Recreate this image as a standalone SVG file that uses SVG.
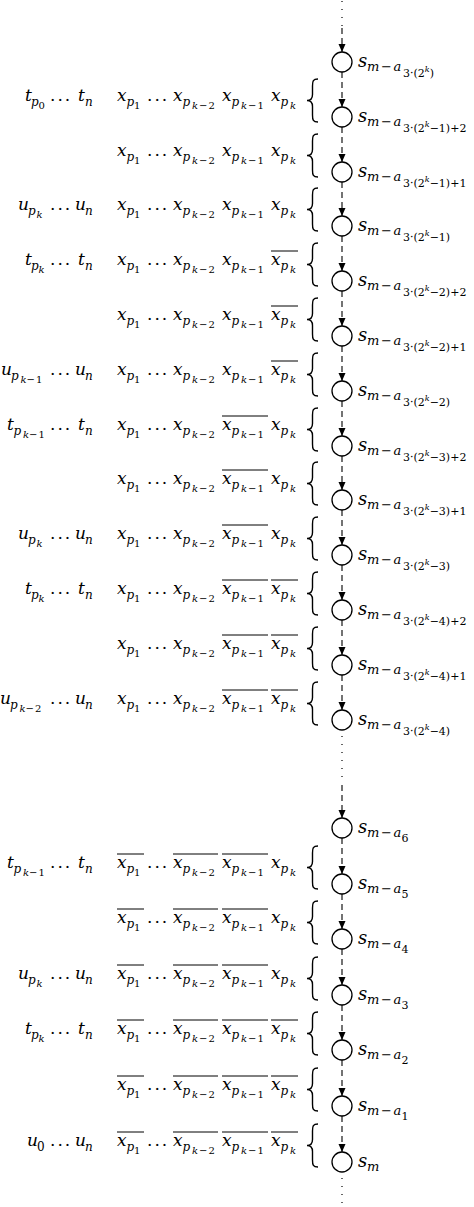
<svg xmlns="http://www.w3.org/2000/svg" xmlns:xlink="http://www.w3.org/1999/xlink" width="474" height="1207" viewBox="0 0 474 1207">
<style>
text { font-family: "DejaVu Serif", "Liberation Serif", serif; fill: #000; }
.m { font-size: 17px; font-style: italic; }
.lb { font-size: 18px; font-style: italic; }
.s { font-size: 12px; }
.ss { font-size: 10px; }
.ls { font-size: 13px; }
.lss { font-size: 11px; }
.lsup { font-size: 8px; font-style: italic; }
.r { font-style: normal; }
.dots { font-style: normal; letter-spacing: 2px; }
.ov { stroke: #000; stroke-width: 1; }
.nd { fill: #fff; stroke: #000; stroke-width: 1.3; }
.br { fill: none; stroke: #000; stroke-width: 1.4; }
.dash { stroke: #000; stroke-width: 1.1; stroke-dasharray: 6 4; fill: none; }
.dot { stroke: #000; stroke-width: 1.2; stroke-dasharray: 1 7; fill: none; }
</style>
<defs>
<marker id="ah" viewBox="0 0 8 8" refX="8" refY="4" markerWidth="8" markerHeight="8" markerUnits="userSpaceOnUse" orient="auto"><path d="M0,0.5 L8,4 L0,7.5 z" fill="#000"/></marker>
<path id="brace" class="br" d="M11,0 C6,0 5.5,2 5.5,7 L5.5,15.5 C5.5,19.5 4,21.5 0,21.5 C4,21.5 5.5,23.5 5.5,27.5 L5.5,36 C5.5,41 6,43 11,43"/>
</defs>

<g id="connectors">
<line class="dot" x1="342" y1="1" x2="342" y2="26"/>
<line class="dash" x1="342" y1="28" x2="342" y2="52" marker-end="url(#ah)"/>
<line class="dash" x1="342" y1="72" x2="342" y2="107" marker-end="url(#ah)"/>
<line class="dash" x1="342" y1="127" x2="342" y2="162" marker-end="url(#ah)"/>
<line class="dash" x1="342" y1="182" x2="342" y2="216" marker-end="url(#ah)"/>
<line class="dash" x1="342" y1="236" x2="342" y2="271" marker-end="url(#ah)"/>
<line class="dash" x1="342" y1="291" x2="342" y2="326" marker-end="url(#ah)"/>
<line class="dash" x1="342" y1="346" x2="342" y2="381" marker-end="url(#ah)"/>
<line class="dash" x1="342" y1="401" x2="342" y2="436" marker-end="url(#ah)"/>
<line class="dash" x1="342" y1="456" x2="342" y2="490" marker-end="url(#ah)"/>
<line class="dash" x1="342" y1="510" x2="342" y2="545" marker-end="url(#ah)"/>
<line class="dash" x1="342" y1="565" x2="342" y2="600" marker-end="url(#ah)"/>
<line class="dash" x1="342" y1="620" x2="342" y2="655" marker-end="url(#ah)"/>
<line class="dash" x1="342" y1="675" x2="342" y2="710" marker-end="url(#ah)"/>
<line class="dot" x1="342" y1="736" x2="342" y2="782"/>
<line class="dash" x1="342" y1="785" x2="342" y2="818" marker-end="url(#ah)"/>
<line class="dash" x1="342" y1="838" x2="342" y2="874" marker-end="url(#ah)"/>
<line class="dash" x1="342" y1="894" x2="342" y2="929" marker-end="url(#ah)"/>
<line class="dash" x1="342" y1="949" x2="342" y2="985" marker-end="url(#ah)"/>
<line class="dash" x1="342" y1="1005" x2="342" y2="1040" marker-end="url(#ah)"/>
<line class="dash" x1="342" y1="1060" x2="342" y2="1096" marker-end="url(#ah)"/>
<line class="dash" x1="342" y1="1116" x2="342" y2="1152" marker-end="url(#ah)"/>
<line class="dot" x1="342" y1="1178" x2="342" y2="1206"/>
</g>

<g id="n0"><circle class="nd" cx="342" cy="62" r="10"/>
<text class="lb" y="67"><tspan x="358">s</tspan><tspan class="ls" x="367" y="71">m</tspan><tspan class="ls r" x="381">−</tspan><tspan class="ls" x="393.5">a</tspan><tspan class="lss r" x="403" y="77">3·(2</tspan><tspan class="lsup" y="72">k</tspan><tspan class="lss r" y="77">)</tspan></text></g>
<g id="n1"><circle class="nd" cx="342" cy="117" r="10"/>
<text class="lb" y="122"><tspan x="358">s</tspan><tspan class="ls" x="367" y="126">m</tspan><tspan class="ls r" x="381">−</tspan><tspan class="ls" x="393.5">a</tspan><tspan class="lss r" x="403" y="132">3·(2</tspan><tspan class="lsup" y="127">k</tspan><tspan class="lss r" y="132">−1)+2</tspan></text></g>
<g id="n2"><circle class="nd" cx="342" cy="172" r="10"/>
<text class="lb" y="177"><tspan x="358">s</tspan><tspan class="ls" x="367" y="181">m</tspan><tspan class="ls r" x="381">−</tspan><tspan class="ls" x="393.5">a</tspan><tspan class="lss r" x="403" y="187">3·(2</tspan><tspan class="lsup" y="182">k</tspan><tspan class="lss r" y="187">−1)+1</tspan></text></g>
<g id="n3"><circle class="nd" cx="342" cy="226" r="10"/>
<text class="lb" y="231"><tspan x="358">s</tspan><tspan class="ls" x="367" y="235">m</tspan><tspan class="ls r" x="381">−</tspan><tspan class="ls" x="393.5">a</tspan><tspan class="lss r" x="403" y="241">3·(2</tspan><tspan class="lsup" y="236">k</tspan><tspan class="lss r" y="241">−1)</tspan></text></g>
<g id="n4"><circle class="nd" cx="342" cy="281" r="10"/>
<text class="lb" y="286"><tspan x="358">s</tspan><tspan class="ls" x="367" y="290">m</tspan><tspan class="ls r" x="381">−</tspan><tspan class="ls" x="393.5">a</tspan><tspan class="lss r" x="403" y="296">3·(2</tspan><tspan class="lsup" y="291">k</tspan><tspan class="lss r" y="296">−2)+2</tspan></text></g>
<g id="n5"><circle class="nd" cx="342" cy="336" r="10"/>
<text class="lb" y="341"><tspan x="358">s</tspan><tspan class="ls" x="367" y="345">m</tspan><tspan class="ls r" x="381">−</tspan><tspan class="ls" x="393.5">a</tspan><tspan class="lss r" x="403" y="351">3·(2</tspan><tspan class="lsup" y="346">k</tspan><tspan class="lss r" y="351">−2)+1</tspan></text></g>
<g id="n6"><circle class="nd" cx="342" cy="391" r="10"/>
<text class="lb" y="396"><tspan x="358">s</tspan><tspan class="ls" x="367" y="400">m</tspan><tspan class="ls r" x="381">−</tspan><tspan class="ls" x="393.5">a</tspan><tspan class="lss r" x="403" y="406">3·(2</tspan><tspan class="lsup" y="401">k</tspan><tspan class="lss r" y="406">−2)</tspan></text></g>
<g id="n7"><circle class="nd" cx="342" cy="446" r="10"/>
<text class="lb" y="451"><tspan x="358">s</tspan><tspan class="ls" x="367" y="455">m</tspan><tspan class="ls r" x="381">−</tspan><tspan class="ls" x="393.5">a</tspan><tspan class="lss r" x="403" y="461">3·(2</tspan><tspan class="lsup" y="456">k</tspan><tspan class="lss r" y="461">−3)+2</tspan></text></g>
<g id="n8"><circle class="nd" cx="342" cy="500" r="10"/>
<text class="lb" y="505"><tspan x="358">s</tspan><tspan class="ls" x="367" y="509">m</tspan><tspan class="ls r" x="381">−</tspan><tspan class="ls" x="393.5">a</tspan><tspan class="lss r" x="403" y="515">3·(2</tspan><tspan class="lsup" y="510">k</tspan><tspan class="lss r" y="515">−3)+1</tspan></text></g>
<g id="n9"><circle class="nd" cx="342" cy="555" r="10"/>
<text class="lb" y="560"><tspan x="358">s</tspan><tspan class="ls" x="367" y="564">m</tspan><tspan class="ls r" x="381">−</tspan><tspan class="ls" x="393.5">a</tspan><tspan class="lss r" x="403" y="570">3·(2</tspan><tspan class="lsup" y="565">k</tspan><tspan class="lss r" y="570">−3)</tspan></text></g>
<g id="n10"><circle class="nd" cx="342" cy="610" r="10"/>
<text class="lb" y="615"><tspan x="358">s</tspan><tspan class="ls" x="367" y="619">m</tspan><tspan class="ls r" x="381">−</tspan><tspan class="ls" x="393.5">a</tspan><tspan class="lss r" x="403" y="625">3·(2</tspan><tspan class="lsup" y="620">k</tspan><tspan class="lss r" y="625">−4)+2</tspan></text></g>
<g id="n11"><circle class="nd" cx="342" cy="665" r="10"/>
<text class="lb" y="670"><tspan x="358">s</tspan><tspan class="ls" x="367" y="674">m</tspan><tspan class="ls r" x="381">−</tspan><tspan class="ls" x="393.5">a</tspan><tspan class="lss r" x="403" y="680">3·(2</tspan><tspan class="lsup" y="675">k</tspan><tspan class="lss r" y="680">−4)+1</tspan></text></g>
<g id="n12"><circle class="nd" cx="342" cy="720" r="10"/>
<text class="lb" y="725"><tspan x="358">s</tspan><tspan class="ls" x="367" y="729">m</tspan><tspan class="ls r" x="381">−</tspan><tspan class="ls" x="393.5">a</tspan><tspan class="lss r" x="403" y="735">3·(2</tspan><tspan class="lsup" y="730">k</tspan><tspan class="lss r" y="735">−4)</tspan></text></g>

<g id="b0"><circle class="nd" cx="342" cy="828" r="10"/>
<text class="lb" y="833"><tspan x="358">s</tspan><tspan class="ls" x="367" y="837">m</tspan><tspan class="ls r" x="381">−</tspan><tspan class="ls" x="393.5">a</tspan><tspan class="lss r" x="401.5" y="842">6</tspan></text></g>
<g id="b1"><circle class="nd" cx="342" cy="884" r="10"/>
<text class="lb" y="889"><tspan x="358">s</tspan><tspan class="ls" x="367" y="893">m</tspan><tspan class="ls r" x="381">−</tspan><tspan class="ls" x="393.5">a</tspan><tspan class="lss r" x="401.5" y="898">5</tspan></text></g>
<g id="b2"><circle class="nd" cx="342" cy="939" r="10"/>
<text class="lb" y="944"><tspan x="358">s</tspan><tspan class="ls" x="367" y="948">m</tspan><tspan class="ls r" x="381">−</tspan><tspan class="ls" x="393.5">a</tspan><tspan class="lss r" x="401.5" y="953">4</tspan></text></g>
<g id="b3"><circle class="nd" cx="342" cy="995" r="10"/>
<text class="lb" y="1000"><tspan x="358">s</tspan><tspan class="ls" x="367" y="1004">m</tspan><tspan class="ls r" x="381">−</tspan><tspan class="ls" x="393.5">a</tspan><tspan class="lss r" x="401.5" y="1009">3</tspan></text></g>
<g id="b4"><circle class="nd" cx="342" cy="1050" r="10"/>
<text class="lb" y="1055"><tspan x="358">s</tspan><tspan class="ls" x="367" y="1059">m</tspan><tspan class="ls r" x="381">−</tspan><tspan class="ls" x="393.5">a</tspan><tspan class="lss r" x="401.5" y="1064">2</tspan></text></g>
<g id="b5"><circle class="nd" cx="342" cy="1106" r="10"/>
<text class="lb" y="1111"><tspan x="358">s</tspan><tspan class="ls" x="367" y="1115">m</tspan><tspan class="ls r" x="381">−</tspan><tspan class="ls" x="393.5">a</tspan><tspan class="lss r" x="401.5" y="1120">1</tspan></text></g>
<g id="b6"><circle class="nd" cx="342" cy="1162" r="10"/>
<text class="lb" y="1167"><tspan x="358">s</tspan><tspan class="ls" x="367" y="1171">m</tspan></text></g>

<g id="r1">
<text class="m" y="101"><tspan x="25">t</tspan><tspan class="s" x="31" y="106">p</tspan><tspan class="ss r" x="38.5" y="109">0</tspan><tspan class="dots" x="50" y="101">...</tspan><tspan x="78">t</tspan><tspan class="s" x="85" y="106">n</tspan></text>
<text class="m" y="101"><tspan x="117">x</tspan><tspan class="s" x="126.5" y="106">p</tspan><tspan class="ss r" x="134" y="109">1</tspan><tspan class="dots" x="147" y="101">...</tspan><tspan x="173">x</tspan><tspan class="s" x="182.5" y="106">p</tspan><tspan class="ss" x="192" y="109">k</tspan><tspan class="ss r" x="199">−</tspan><tspan class="ss r" x="208.5">2</tspan><tspan x="222" y="101">x</tspan><tspan class="s" x="231.5" y="106">p</tspan><tspan class="ss" x="241" y="109">k</tspan><tspan class="ss r" x="248">−</tspan><tspan class="ss r" x="257.5">1</tspan><tspan x="271" y="101">x</tspan><tspan class="s" x="280.5" y="106">p</tspan><tspan class="ss" x="290" y="109">k</tspan></text>
<use xlink:href="#brace" x="307" y="79"/>
</g>
<g id="r2">
<text class="m" y="156"><tspan x="117">x</tspan><tspan class="s" x="126.5" y="161">p</tspan><tspan class="ss r" x="134" y="164">1</tspan><tspan class="dots" x="147" y="156">...</tspan><tspan x="173">x</tspan><tspan class="s" x="182.5" y="161">p</tspan><tspan class="ss" x="192" y="164">k</tspan><tspan class="ss r" x="199">−</tspan><tspan class="ss r" x="208.5">2</tspan><tspan x="222" y="156">x</tspan><tspan class="s" x="231.5" y="161">p</tspan><tspan class="ss" x="241" y="164">k</tspan><tspan class="ss r" x="248">−</tspan><tspan class="ss r" x="257.5">1</tspan><tspan x="271" y="156">x</tspan><tspan class="s" x="280.5" y="161">p</tspan><tspan class="ss" x="290" y="164">k</tspan></text>
<use xlink:href="#brace" x="307" y="134"/>
</g>
<g id="r3">
<text class="m" y="210"><tspan x="18">u</tspan><tspan class="s" x="28" y="215">p</tspan><tspan class="ss" x="36.5" y="218">k</tspan><tspan class="dots" x="50" y="210">...</tspan><tspan x="75">u</tspan><tspan class="s" x="85" y="215">n</tspan></text>
<text class="m" y="210"><tspan x="117">x</tspan><tspan class="s" x="126.5" y="215">p</tspan><tspan class="ss r" x="134" y="218">1</tspan><tspan class="dots" x="147" y="210">...</tspan><tspan x="173">x</tspan><tspan class="s" x="182.5" y="215">p</tspan><tspan class="ss" x="192" y="218">k</tspan><tspan class="ss r" x="199">−</tspan><tspan class="ss r" x="208.5">2</tspan><tspan x="222" y="210">x</tspan><tspan class="s" x="231.5" y="215">p</tspan><tspan class="ss" x="241" y="218">k</tspan><tspan class="ss r" x="248">−</tspan><tspan class="ss r" x="257.5">1</tspan><tspan x="271" y="210">x</tspan><tspan class="s" x="280.5" y="215">p</tspan><tspan class="ss" x="290" y="218">k</tspan></text>
<use xlink:href="#brace" x="307" y="188"/>
</g>
<g id="r4">
<text class="m" y="265"><tspan x="25">t</tspan><tspan class="s" x="31" y="270">p</tspan><tspan class="ss" x="38.5" y="273">k</tspan><tspan class="dots" x="50" y="265">...</tspan><tspan x="78">t</tspan><tspan class="s" x="85" y="270">n</tspan></text>
<text class="m" y="265"><tspan x="117">x</tspan><tspan class="s" x="126.5" y="270">p</tspan><tspan class="ss r" x="134" y="273">1</tspan><tspan class="dots" x="147" y="265">...</tspan><tspan x="173">x</tspan><tspan class="s" x="182.5" y="270">p</tspan><tspan class="ss" x="192" y="273">k</tspan><tspan class="ss r" x="199">−</tspan><tspan class="ss r" x="208.5">2</tspan><tspan x="222" y="265">x</tspan><tspan class="s" x="231.5" y="270">p</tspan><tspan class="ss" x="241" y="273">k</tspan><tspan class="ss r" x="248">−</tspan><tspan class="ss r" x="257.5">1</tspan><tspan x="271" y="265">x</tspan><tspan class="s" x="280.5" y="270">p</tspan><tspan class="ss" x="290" y="273">k</tspan></text>
<line class="ov" x1="271" y1="251" x2="298" y2="251"/>
<use xlink:href="#brace" x="307" y="243"/>
</g>
<g id="r5">
<text class="m" y="320"><tspan x="117">x</tspan><tspan class="s" x="126.5" y="325">p</tspan><tspan class="ss r" x="134" y="328">1</tspan><tspan class="dots" x="147" y="320">...</tspan><tspan x="173">x</tspan><tspan class="s" x="182.5" y="325">p</tspan><tspan class="ss" x="192" y="328">k</tspan><tspan class="ss r" x="199">−</tspan><tspan class="ss r" x="208.5">2</tspan><tspan x="222" y="320">x</tspan><tspan class="s" x="231.5" y="325">p</tspan><tspan class="ss" x="241" y="328">k</tspan><tspan class="ss r" x="248">−</tspan><tspan class="ss r" x="257.5">1</tspan><tspan x="271" y="320">x</tspan><tspan class="s" x="280.5" y="325">p</tspan><tspan class="ss" x="290" y="328">k</tspan></text>
<line class="ov" x1="271" y1="306" x2="298" y2="306"/>
<use xlink:href="#brace" x="307" y="298"/>
</g>
<g id="r6">
<text class="m" y="375"><tspan x="1">u</tspan><tspan class="s" x="11" y="380">p</tspan><tspan class="ss" x="20.5" y="383">k</tspan><tspan class="ss r" x="26.5">−</tspan><tspan class="ss r" x="36">1</tspan><tspan class="dots" x="50" y="375">...</tspan><tspan x="75">u</tspan><tspan class="s" x="85" y="380">n</tspan></text>
<text class="m" y="375"><tspan x="117">x</tspan><tspan class="s" x="126.5" y="380">p</tspan><tspan class="ss r" x="134" y="383">1</tspan><tspan class="dots" x="147" y="375">...</tspan><tspan x="173">x</tspan><tspan class="s" x="182.5" y="380">p</tspan><tspan class="ss" x="192" y="383">k</tspan><tspan class="ss r" x="199">−</tspan><tspan class="ss r" x="208.5">2</tspan><tspan x="222" y="375">x</tspan><tspan class="s" x="231.5" y="380">p</tspan><tspan class="ss" x="241" y="383">k</tspan><tspan class="ss r" x="248">−</tspan><tspan class="ss r" x="257.5">1</tspan><tspan x="271" y="375">x</tspan><tspan class="s" x="280.5" y="380">p</tspan><tspan class="ss" x="290" y="383">k</tspan></text>
<line class="ov" x1="271" y1="361" x2="298" y2="361"/>
<use xlink:href="#brace" x="307" y="353"/>
</g>
<g id="r7">
<text class="m" y="430"><tspan x="7">t</tspan><tspan class="s" x="13.5" y="435">p</tspan><tspan class="ss" x="23" y="438">k</tspan><tspan class="ss r" x="29">−</tspan><tspan class="ss r" x="38.5">1</tspan><tspan class="dots" x="50" y="430">...</tspan><tspan x="78">t</tspan><tspan class="s" x="85" y="435">n</tspan></text>
<text class="m" y="430"><tspan x="117">x</tspan><tspan class="s" x="126.5" y="435">p</tspan><tspan class="ss r" x="134" y="438">1</tspan><tspan class="dots" x="147" y="430">...</tspan><tspan x="173">x</tspan><tspan class="s" x="182.5" y="435">p</tspan><tspan class="ss" x="192" y="438">k</tspan><tspan class="ss r" x="199">−</tspan><tspan class="ss r" x="208.5">2</tspan><tspan x="222" y="430">x</tspan><tspan class="s" x="231.5" y="435">p</tspan><tspan class="ss" x="241" y="438">k</tspan><tspan class="ss r" x="248">−</tspan><tspan class="ss r" x="257.5">1</tspan><tspan x="271" y="430">x</tspan><tspan class="s" x="280.5" y="435">p</tspan><tspan class="ss" x="290" y="438">k</tspan></text>
<line class="ov" x1="222" y1="416" x2="268" y2="416"/>
<use xlink:href="#brace" x="307" y="408"/>
</g>
<g id="r8">
<text class="m" y="484"><tspan x="117">x</tspan><tspan class="s" x="126.5" y="489">p</tspan><tspan class="ss r" x="134" y="492">1</tspan><tspan class="dots" x="147" y="484">...</tspan><tspan x="173">x</tspan><tspan class="s" x="182.5" y="489">p</tspan><tspan class="ss" x="192" y="492">k</tspan><tspan class="ss r" x="199">−</tspan><tspan class="ss r" x="208.5">2</tspan><tspan x="222" y="484">x</tspan><tspan class="s" x="231.5" y="489">p</tspan><tspan class="ss" x="241" y="492">k</tspan><tspan class="ss r" x="248">−</tspan><tspan class="ss r" x="257.5">1</tspan><tspan x="271" y="484">x</tspan><tspan class="s" x="280.5" y="489">p</tspan><tspan class="ss" x="290" y="492">k</tspan></text>
<line class="ov" x1="222" y1="470" x2="268" y2="470"/>
<use xlink:href="#brace" x="307" y="462"/>
</g>
<g id="r9">
<text class="m" y="539"><tspan x="18">u</tspan><tspan class="s" x="28" y="544">p</tspan><tspan class="ss" x="36.5" y="547">k</tspan><tspan class="dots" x="50" y="539">...</tspan><tspan x="75">u</tspan><tspan class="s" x="85" y="544">n</tspan></text>
<text class="m" y="539"><tspan x="117">x</tspan><tspan class="s" x="126.5" y="544">p</tspan><tspan class="ss r" x="134" y="547">1</tspan><tspan class="dots" x="147" y="539">...</tspan><tspan x="173">x</tspan><tspan class="s" x="182.5" y="544">p</tspan><tspan class="ss" x="192" y="547">k</tspan><tspan class="ss r" x="199">−</tspan><tspan class="ss r" x="208.5">2</tspan><tspan x="222" y="539">x</tspan><tspan class="s" x="231.5" y="544">p</tspan><tspan class="ss" x="241" y="547">k</tspan><tspan class="ss r" x="248">−</tspan><tspan class="ss r" x="257.5">1</tspan><tspan x="271" y="539">x</tspan><tspan class="s" x="280.5" y="544">p</tspan><tspan class="ss" x="290" y="547">k</tspan></text>
<line class="ov" x1="222" y1="525" x2="268" y2="525"/>
<use xlink:href="#brace" x="307" y="517"/>
</g>
<g id="r10">
<text class="m" y="594"><tspan x="25">t</tspan><tspan class="s" x="31" y="599">p</tspan><tspan class="ss" x="38.5" y="602">k</tspan><tspan class="dots" x="50" y="594">...</tspan><tspan x="78">t</tspan><tspan class="s" x="85" y="599">n</tspan></text>
<text class="m" y="594"><tspan x="117">x</tspan><tspan class="s" x="126.5" y="599">p</tspan><tspan class="ss r" x="134" y="602">1</tspan><tspan class="dots" x="147" y="594">...</tspan><tspan x="173">x</tspan><tspan class="s" x="182.5" y="599">p</tspan><tspan class="ss" x="192" y="602">k</tspan><tspan class="ss r" x="199">−</tspan><tspan class="ss r" x="208.5">2</tspan><tspan x="222" y="594">x</tspan><tspan class="s" x="231.5" y="599">p</tspan><tspan class="ss" x="241" y="602">k</tspan><tspan class="ss r" x="248">−</tspan><tspan class="ss r" x="257.5">1</tspan><tspan x="271" y="594">x</tspan><tspan class="s" x="280.5" y="599">p</tspan><tspan class="ss" x="290" y="602">k</tspan></text>
<line class="ov" x1="222" y1="580" x2="268" y2="580"/>
<line class="ov" x1="271" y1="580" x2="298" y2="580"/>
<use xlink:href="#brace" x="307" y="572"/>
</g>
<g id="r11">
<text class="m" y="649"><tspan x="117">x</tspan><tspan class="s" x="126.5" y="654">p</tspan><tspan class="ss r" x="134" y="657">1</tspan><tspan class="dots" x="147" y="649">...</tspan><tspan x="173">x</tspan><tspan class="s" x="182.5" y="654">p</tspan><tspan class="ss" x="192" y="657">k</tspan><tspan class="ss r" x="199">−</tspan><tspan class="ss r" x="208.5">2</tspan><tspan x="222" y="649">x</tspan><tspan class="s" x="231.5" y="654">p</tspan><tspan class="ss" x="241" y="657">k</tspan><tspan class="ss r" x="248">−</tspan><tspan class="ss r" x="257.5">1</tspan><tspan x="271" y="649">x</tspan><tspan class="s" x="280.5" y="654">p</tspan><tspan class="ss" x="290" y="657">k</tspan></text>
<line class="ov" x1="222" y1="635" x2="268" y2="635"/>
<line class="ov" x1="271" y1="635" x2="298" y2="635"/>
<use xlink:href="#brace" x="307" y="627"/>
</g>
<g id="r12">
<text class="m" y="704"><tspan x="0">u</tspan><tspan class="s" x="10" y="709">p</tspan><tspan class="ss" x="19.5" y="712">k</tspan><tspan class="ss r" x="25.5">−</tspan><tspan class="ss r" x="35">2</tspan><tspan class="dots" x="50" y="704">...</tspan><tspan x="75">u</tspan><tspan class="s" x="85" y="709">n</tspan></text>
<text class="m" y="704"><tspan x="117">x</tspan><tspan class="s" x="126.5" y="709">p</tspan><tspan class="ss r" x="134" y="712">1</tspan><tspan class="dots" x="147" y="704">...</tspan><tspan x="173">x</tspan><tspan class="s" x="182.5" y="709">p</tspan><tspan class="ss" x="192" y="712">k</tspan><tspan class="ss r" x="199">−</tspan><tspan class="ss r" x="208.5">2</tspan><tspan x="222" y="704">x</tspan><tspan class="s" x="231.5" y="709">p</tspan><tspan class="ss" x="241" y="712">k</tspan><tspan class="ss r" x="248">−</tspan><tspan class="ss r" x="257.5">1</tspan><tspan x="271" y="704">x</tspan><tspan class="s" x="280.5" y="709">p</tspan><tspan class="ss" x="290" y="712">k</tspan></text>
<line class="ov" x1="222" y1="690" x2="268" y2="690"/>
<line class="ov" x1="271" y1="690" x2="298" y2="690"/>
<use xlink:href="#brace" x="307" y="682"/>
</g>

<g id="q1">
<text class="m" y="868"><tspan x="7">t</tspan><tspan class="s" x="13.5" y="873">p</tspan><tspan class="ss" x="23" y="876">k</tspan><tspan class="ss r" x="29">−</tspan><tspan class="ss r" x="38.5">1</tspan><tspan class="dots" x="50" y="868">...</tspan><tspan x="78">t</tspan><tspan class="s" x="85" y="873">n</tspan></text>
<text class="m" y="868"><tspan x="117">x</tspan><tspan class="s" x="126.5" y="873">p</tspan><tspan class="ss r" x="134" y="876">1</tspan><tspan class="dots" x="147" y="868">...</tspan><tspan x="173">x</tspan><tspan class="s" x="182.5" y="873">p</tspan><tspan class="ss" x="192" y="876">k</tspan><tspan class="ss r" x="199">−</tspan><tspan class="ss r" x="208.5">2</tspan><tspan x="222" y="868">x</tspan><tspan class="s" x="231.5" y="873">p</tspan><tspan class="ss" x="241" y="876">k</tspan><tspan class="ss r" x="248">−</tspan><tspan class="ss r" x="257.5">1</tspan><tspan x="271" y="868">x</tspan><tspan class="s" x="280.5" y="873">p</tspan><tspan class="ss" x="290" y="876">k</tspan></text>
<line class="ov" x1="117" y1="854" x2="144" y2="854"/>
<line class="ov" x1="173" y1="854" x2="218" y2="854"/>
<line class="ov" x1="222" y1="854" x2="268" y2="854"/>
<use xlink:href="#brace" x="307" y="846"/>
</g>
<g id="q2">
<text class="m" y="923"><tspan x="117">x</tspan><tspan class="s" x="126.5" y="928">p</tspan><tspan class="ss r" x="134" y="931">1</tspan><tspan class="dots" x="147" y="923">...</tspan><tspan x="173">x</tspan><tspan class="s" x="182.5" y="928">p</tspan><tspan class="ss" x="192" y="931">k</tspan><tspan class="ss r" x="199">−</tspan><tspan class="ss r" x="208.5">2</tspan><tspan x="222" y="923">x</tspan><tspan class="s" x="231.5" y="928">p</tspan><tspan class="ss" x="241" y="931">k</tspan><tspan class="ss r" x="248">−</tspan><tspan class="ss r" x="257.5">1</tspan><tspan x="271" y="923">x</tspan><tspan class="s" x="280.5" y="928">p</tspan><tspan class="ss" x="290" y="931">k</tspan></text>
<line class="ov" x1="117" y1="909" x2="144" y2="909"/>
<line class="ov" x1="173" y1="909" x2="218" y2="909"/>
<line class="ov" x1="222" y1="909" x2="268" y2="909"/>
<use xlink:href="#brace" x="307" y="901"/>
</g>
<g id="q3">
<text class="m" y="979"><tspan x="18">u</tspan><tspan class="s" x="28" y="984">p</tspan><tspan class="ss" x="36.5" y="987">k</tspan><tspan class="dots" x="50" y="979">...</tspan><tspan x="75">u</tspan><tspan class="s" x="85" y="984">n</tspan></text>
<text class="m" y="979"><tspan x="117">x</tspan><tspan class="s" x="126.5" y="984">p</tspan><tspan class="ss r" x="134" y="987">1</tspan><tspan class="dots" x="147" y="979">...</tspan><tspan x="173">x</tspan><tspan class="s" x="182.5" y="984">p</tspan><tspan class="ss" x="192" y="987">k</tspan><tspan class="ss r" x="199">−</tspan><tspan class="ss r" x="208.5">2</tspan><tspan x="222" y="979">x</tspan><tspan class="s" x="231.5" y="984">p</tspan><tspan class="ss" x="241" y="987">k</tspan><tspan class="ss r" x="248">−</tspan><tspan class="ss r" x="257.5">1</tspan><tspan x="271" y="979">x</tspan><tspan class="s" x="280.5" y="984">p</tspan><tspan class="ss" x="290" y="987">k</tspan></text>
<line class="ov" x1="117" y1="965" x2="144" y2="965"/>
<line class="ov" x1="173" y1="965" x2="218" y2="965"/>
<line class="ov" x1="222" y1="965" x2="268" y2="965"/>
<use xlink:href="#brace" x="307" y="957"/>
</g>
<g id="q4">
<text class="m" y="1034"><tspan x="25">t</tspan><tspan class="s" x="31" y="1039">p</tspan><tspan class="ss" x="38.5" y="1042">k</tspan><tspan class="dots" x="50" y="1034">...</tspan><tspan x="78">t</tspan><tspan class="s" x="85" y="1039">n</tspan></text>
<text class="m" y="1034"><tspan x="117">x</tspan><tspan class="s" x="126.5" y="1039">p</tspan><tspan class="ss r" x="134" y="1042">1</tspan><tspan class="dots" x="147" y="1034">...</tspan><tspan x="173">x</tspan><tspan class="s" x="182.5" y="1039">p</tspan><tspan class="ss" x="192" y="1042">k</tspan><tspan class="ss r" x="199">−</tspan><tspan class="ss r" x="208.5">2</tspan><tspan x="222" y="1034">x</tspan><tspan class="s" x="231.5" y="1039">p</tspan><tspan class="ss" x="241" y="1042">k</tspan><tspan class="ss r" x="248">−</tspan><tspan class="ss r" x="257.5">1</tspan><tspan x="271" y="1034">x</tspan><tspan class="s" x="280.5" y="1039">p</tspan><tspan class="ss" x="290" y="1042">k</tspan></text>
<line class="ov" x1="117" y1="1020" x2="144" y2="1020"/>
<line class="ov" x1="173" y1="1020" x2="218" y2="1020"/>
<line class="ov" x1="222" y1="1020" x2="268" y2="1020"/>
<line class="ov" x1="271" y1="1020" x2="298" y2="1020"/>
<use xlink:href="#brace" x="307" y="1012"/>
</g>
<g id="q5">
<text class="m" y="1090"><tspan x="117">x</tspan><tspan class="s" x="126.5" y="1095">p</tspan><tspan class="ss r" x="134" y="1098">1</tspan><tspan class="dots" x="147" y="1090">...</tspan><tspan x="173">x</tspan><tspan class="s" x="182.5" y="1095">p</tspan><tspan class="ss" x="192" y="1098">k</tspan><tspan class="ss r" x="199">−</tspan><tspan class="ss r" x="208.5">2</tspan><tspan x="222" y="1090">x</tspan><tspan class="s" x="231.5" y="1095">p</tspan><tspan class="ss" x="241" y="1098">k</tspan><tspan class="ss r" x="248">−</tspan><tspan class="ss r" x="257.5">1</tspan><tspan x="271" y="1090">x</tspan><tspan class="s" x="280.5" y="1095">p</tspan><tspan class="ss" x="290" y="1098">k</tspan></text>
<line class="ov" x1="117" y1="1076" x2="144" y2="1076"/>
<line class="ov" x1="173" y1="1076" x2="218" y2="1076"/>
<line class="ov" x1="222" y1="1076" x2="268" y2="1076"/>
<line class="ov" x1="271" y1="1076" x2="298" y2="1076"/>
<use xlink:href="#brace" x="307" y="1068"/>
</g>
<g id="q6">
<text class="m" y="1146"><tspan x="27">u</tspan><tspan class="s r" x="37" y="1151">0</tspan><tspan class="dots" x="50" y="1146">...</tspan><tspan x="75">u</tspan><tspan class="s" x="85" y="1151">n</tspan></text>
<text class="m" y="1146"><tspan x="117">x</tspan><tspan class="s" x="126.5" y="1151">p</tspan><tspan class="ss r" x="134" y="1154">1</tspan><tspan class="dots" x="147" y="1146">...</tspan><tspan x="173">x</tspan><tspan class="s" x="182.5" y="1151">p</tspan><tspan class="ss" x="192" y="1154">k</tspan><tspan class="ss r" x="199">−</tspan><tspan class="ss r" x="208.5">2</tspan><tspan x="222" y="1146">x</tspan><tspan class="s" x="231.5" y="1151">p</tspan><tspan class="ss" x="241" y="1154">k</tspan><tspan class="ss r" x="248">−</tspan><tspan class="ss r" x="257.5">1</tspan><tspan x="271" y="1146">x</tspan><tspan class="s" x="280.5" y="1151">p</tspan><tspan class="ss" x="290" y="1154">k</tspan></text>
<line class="ov" x1="117" y1="1132" x2="144" y2="1132"/>
<line class="ov" x1="173" y1="1132" x2="218" y2="1132"/>
<line class="ov" x1="222" y1="1132" x2="268" y2="1132"/>
<line class="ov" x1="271" y1="1132" x2="298" y2="1132"/>
<use xlink:href="#brace" x="307" y="1124"/>
</g>
</svg>
